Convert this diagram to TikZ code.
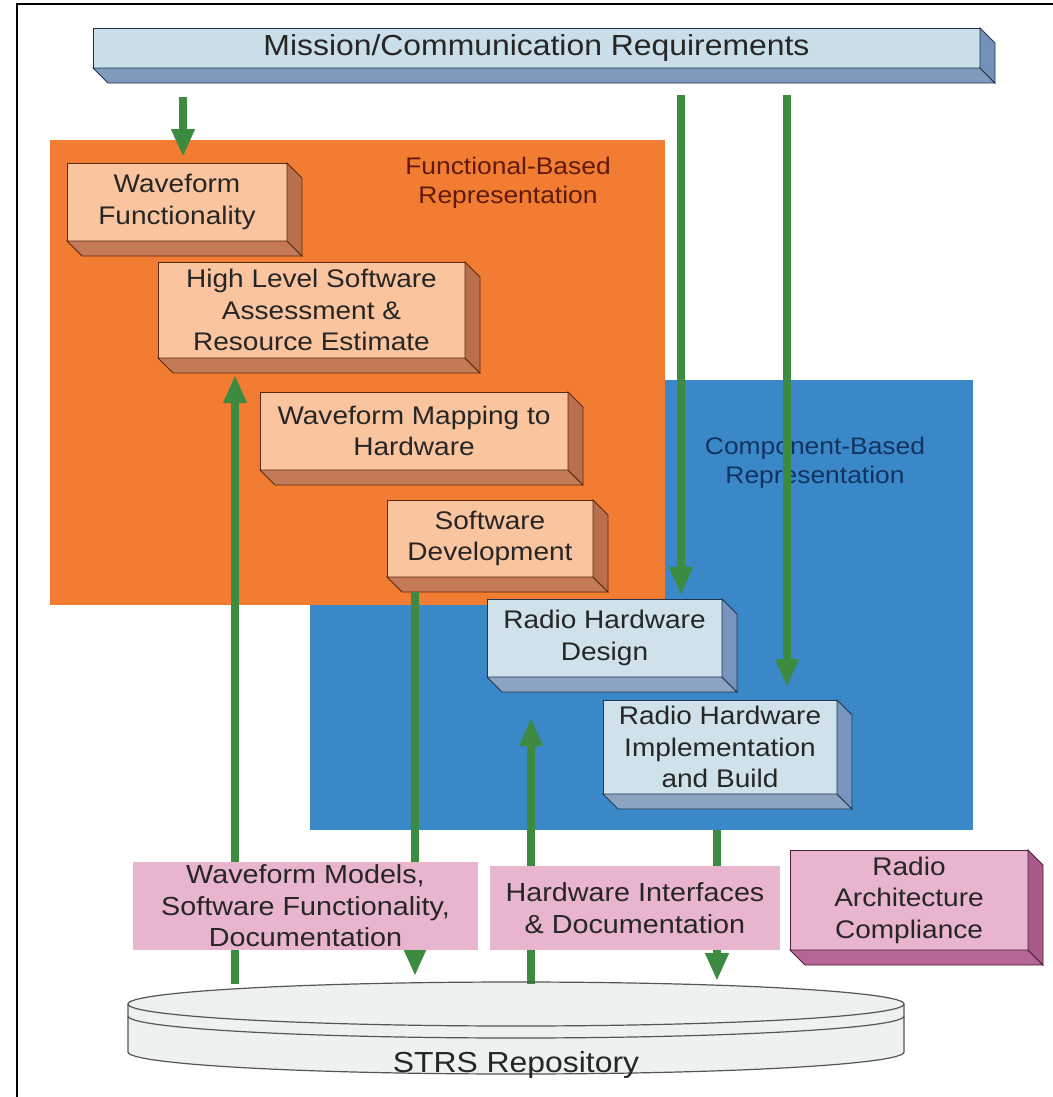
\documentclass[tikz,border=0pt]{standalone}
\usepackage{fontspec}
\setmainfont{Liberation Sans}[FakeStretch=1.1]
\usetikzlibrary{arrows.meta,calc}
\definecolor{orangebg}{HTML}{F37C33}
\definecolor{bluebg}{HTML}{3B88C9}
\definecolor{peach}{HTML}{FAC59E}
\definecolor{peachbot}{HTML}{C47A56}
\definecolor{peachside}{HTML}{B96E4C}
\definecolor{peachline}{HTML}{5A2A10}
\definecolor{lblue}{HTML}{CFE1EA}
\definecolor{lbluebot}{HTML}{8CA3C2}
\definecolor{lblueside}{HTML}{7895BD}
\definecolor{lblueline}{HTML}{1F3550}
\definecolor{pinkf}{HTML}{E9B5CE}
\definecolor{pinkbot}{HTML}{B76596}
\definecolor{pinkside}{HTML}{A85A8A}
\definecolor{pinkline}{HTML}{4A2038}
\definecolor{barf}{HTML}{C9DEE8}
\definecolor{barbot}{HTML}{7E9BBD}
\definecolor{barside}{HTML}{7392BA}
\definecolor{arrowgreen}{HTML}{3C8B40}
\definecolor{textdark}{HTML}{262626}
\definecolor{funccol}{HTML}{5E1A0C}
\definecolor{compcol}{HTML}{12335F}
\definecolor{diskfill}{HTML}{EEF1F2}
\definecolor{diskline}{HTML}{555555}
\newcommand{\tdbox}[7]{%
  \node[#6front, minimum width={(#4-#2)*0.75pt}, minimum height={(#5-#3)*0.75pt}] (#1) at ({(#2+#4)/2},{(#3+#5)/2}) {#7};
  \filldraw[#6bottom] (#1.south west) -- ++(15,15) -- ($(#1.south east)+(15,15)$) -- (#1.south east) -- cycle;
  \filldraw[#6side] (#1.north east) -- ++(15,15) -- ($(#1.south east)+(15,15)$) -- (#1.south east) -- cycle;
}
\tikzset{
  every node/.style={inner sep=0pt, outer sep=0pt},
  boxfont/.style={font=\fontsize{19.1}{23.6}\selectfont, text=textdark, align=center},
  edge/.style={line width=0.6pt},
  orfront/.style={boxfont, edge, fill=peach, draw=peachline},
  orbottom/.style={edge, fill=peachbot, draw=peachline},
  orside/.style={edge, fill=peachside, draw=peachline},
  blfront/.style={boxfont, edge, fill=lblue, draw=lblueline},
  blbottom/.style={edge, fill=lbluebot, draw=lblueline},
  blside/.style={edge, fill=lblueside, draw=lblueline},
  pkfront/.style={boxfont, edge, fill=pinkf, draw=pinkline},
  pkbottom/.style={edge, fill=pinkbot, draw=pinkline},
  pkside/.style={edge, fill=pinkside, draw=pinkline},
  barfront/.style={edge, fill=barf, draw=lblueline, font=\fontsize{21.75}{26}\selectfont, text=textdark},
  barbottom/.style={edge, fill=barbot, draw=lblueline},
  barside/.style={edge, fill=barside, draw=lblueline},
  flatpink/.style={font=\fontsize{19.6}{23.6}\selectfont, text=textdark, align=center, fill=pinkf},
  replabel/.style={font=\fontsize{18}{21.75}\selectfont, align=center},
  garrow/.style={draw=arrowgreen, line width=6pt, -{Triangle[width=16.5pt,length=21pt]}},
  dline/.style={draw=diskline, line width=0.9pt}
}
\begin{document}
\begin{tikzpicture}[x=0.75pt,y=-0.75pt]
\useasboundingbox (0,0) rectangle (1053,1097);
\fill[white] (0,0) rectangle (1053,1097);
\draw[line width=2.2pt] (17,1097) -- (17,4) -- (1053,4);

% column positions
\foreach \xx in {183,235,415,531,681,717,787} {\coordinate (x\xx) at (\xx,0);}

% top bar
\tdbox{bar}{93}{28}{980}{68}{bar}{Mission/Communication Requirements}

% background regions
\fill[bluebg] (310,380) rectangle (973,830);
\fill[orangebg] (50,140) rectangle (665,605);
\node[replabel, text=funccol] (funclab) at (508,183) {Functional-Based\\Representation};
\node[replabel, text=compcol] (complab) at (815,463) {Component-Based\\Representation};

% process boxes
\tdbox{wf}{67}{163}{287}{241}{or}{Waveform\\Functionality}
\tdbox{hls}{158}{262}{465}{358}{or}{High Level Software\\Assessment \&\\Resource Estimate}
\tdbox{wmh}{260}{392}{568}{470}{or}{Waveform Mapping to\\Hardware}
\tdbox{swd}{387}{500}{593}{577}{or}{Software\\Development}
\tdbox{rhd}{487}{599}{722}{677}{bl}{Radio Hardware\\Design}
\tdbox{rhi}{603}{700}{837}{794}{bl}{Radio Hardware\\Implementation\\and Build}

% repository disk
\coordinate (repotop) at (516,984);
\fill[diskfill] (128,1004) -- (128,1052) arc[start angle=180,end angle=0,x radius=388,y radius=22] -- (904,1004) -- cycle;
\fill[diskfill] (516,1004) ellipse[x radius=388,y radius=22];

% arrows
\draw[garrow] ($(bar.south -| x183)+(0,29)$) -- ($(wf.north -| x183)+(0,-6)$);
\draw[garrow] ($(bar.south -| x681)+(0,27)$) -- ($(rhd.north -| x681)+(0,-4)$);
\draw[garrow] ($(bar.south -| x787)+(0,27)$) -- ($(rhi.north -| x787)+(0,-13)$);
\draw[garrow] (repotop -| x235) -- ($(hls.south -| x235)+(0,17)$);
\draw[garrow] ($(swd.south -| x415)+(0,15)$) -- ($(repotop -| x415)+(0,-8)$);
\draw[garrow] (repotop -| x531) -- ($(rhd.south -| x531)+(0,41)$);
\draw[garrow] ($(rhi.south -| x717)+(0,36)$) -- ($(repotop -| x717)+(0,-3)$);

% disk outlines
\draw[dline] (516,1004) ellipse[x radius=388,y radius=22];
\draw[dline] (128,1016) arc[start angle=180,end angle=0,x radius=388,y radius=22];
\draw[dline] (128,1004) -- (128,1052) arc[start angle=180,end angle=0,x radius=388,y radius=22] -- (904,1004);
\node[font=\fontsize{21.75}{26}\selectfont, text=textdark, anchor=base] (repo) at (516,1072) {STRS Repository};

% repository items
\node[flatpink, minimum width={345*0.75pt}, minimum height={88*0.75pt}] (wfm) at (305.5,906) {Waveform Models,\\Software Functionality,\\Documentation};
\node[flatpink, minimum width={290*0.75pt}, minimum height={84*0.75pt}] (hwi) at (635,908) {Hardware Interfaces\\\& Documentation};
\tdbox{rac}{790}{850}{1028}{950}{pk}{Radio\\Architecture\\Compliance}
\end{tikzpicture}
\end{document}
